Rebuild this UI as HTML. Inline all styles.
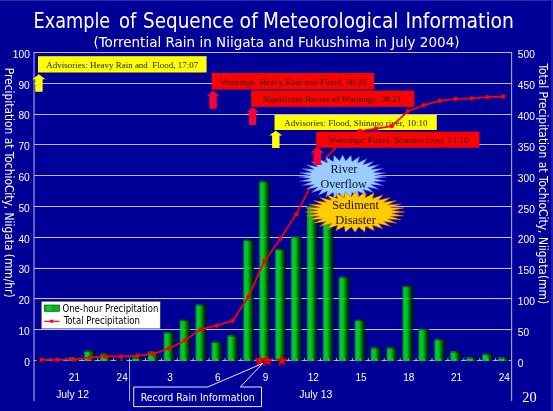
<!DOCTYPE html>
<html lang="en"><head><meta charset="utf-8"><title>Example of Sequence of Meteorological Information</title>
<style>html,body{margin:0;padding:0;background:#000099;overflow:hidden}svg{display:block}</style></head><body>
<svg width="553" height="411" viewBox="0 0 553 411">
<defs>
<linearGradient id="bar" x1="0" x2="1" y1="0" y2="0"><stop offset="0" stop-color="#008c1a"/><stop offset="0.1" stop-color="#00b420"/><stop offset="0.22" stop-color="#00d026"/><stop offset="0.42" stop-color="#00c020"/><stop offset="0.56" stop-color="#009416"/><stop offset="0.72" stop-color="#00580c"/><stop offset="0.86" stop-color="#002e06"/><stop offset="1" stop-color="#001202"/></linearGradient>
<linearGradient id="cap" x1="0" x2="1" y1="0" y2="0"><stop offset="0" stop-color="#005a10"/><stop offset="0.3" stop-color="#007414"/><stop offset="0.7" stop-color="#002c06"/><stop offset="1" stop-color="#000c00"/></linearGradient>
</defs>
<rect x="0" y="0" width="553" height="411" fill="#000099"/>
<rect x="0" y="0" width="553" height="1" fill="#2a2ab0"/>
<rect x="551" y="0" width="2" height="411" fill="#1e1eac"/>
<text y="27.7" font-family='"DejaVu Sans Condensed", "Liberation Sans", sans-serif' font-size="20.4" fill="#ffffff"><tspan x="33.6" textLength="76.6" lengthAdjust="spacingAndGlyphs">Example</tspan> <tspan x="119.0" textLength="17.4" lengthAdjust="spacingAndGlyphs">of</tspan> <tspan x="143.0" textLength="90.8" lengthAdjust="spacingAndGlyphs">Sequence</tspan> <tspan x="239.6" textLength="18.2" lengthAdjust="spacingAndGlyphs">of</tspan> <tspan x="263.1" textLength="135.2" lengthAdjust="spacingAndGlyphs">Meteorological</tspan> <tspan x="405.4" textLength="108.6" lengthAdjust="spacingAndGlyphs">Information</tspan></text>
<text x="93.5" y="46.6" font-family='"DejaVu Sans Condensed", "Liberation Sans", sans-serif' font-size="14.7" fill="#ffffff" textLength="366" lengthAdjust="spacingAndGlyphs">(Torrential Rain in Niigata and Fukushima in July 2004)</text>
<g stroke="#b9b9e6" stroke-width="1" fill="none">
<line x1="34.00" y1="329.50" x2="511.60" y2="329.50"/>
<line x1="34.00" y1="298.50" x2="511.60" y2="298.50"/>
<line x1="34.00" y1="268.50" x2="511.60" y2="268.50"/>
<line x1="34.00" y1="237.50" x2="511.60" y2="237.50"/>
<line x1="34.00" y1="206.50" x2="511.60" y2="206.50"/>
<line x1="34.00" y1="175.50" x2="511.60" y2="175.50"/>
<line x1="34.00" y1="144.50" x2="511.60" y2="144.50"/>
<line x1="34.00" y1="114.50" x2="511.60" y2="114.50"/>
<line x1="34.00" y1="83.50" x2="511.60" y2="83.50"/>
<line x1="34.00" y1="52.50" x2="511.60" y2="52.50"/>
</g>
<g stroke="#a9a9e0" stroke-width="1.1" fill="none">
<line x1="34.00" y1="52.10" x2="34.00" y2="401"/>
<line x1="511.60" y1="52.10" x2="511.60" y2="401"/>
<line x1="129.52" y1="360.50" x2="129.52" y2="401"/>
<line x1="34.00" y1="360.50" x2="511.60" y2="360.50"/>
</g>
<g font-family='"Liberation Sans", Arial, sans-serif' font-size="10.2" fill="#ffffff" text-anchor="end">
<text x="29.8" y="365.80">0</text>
<text x="29.8" y="335.01">10</text>
<text x="29.8" y="304.22">20</text>
<text x="29.8" y="273.43">30</text>
<text x="29.8" y="242.64">40</text>
<text x="29.8" y="211.85">50</text>
<text x="29.8" y="181.06">60</text>
<text x="29.8" y="150.27">70</text>
<text x="29.8" y="119.48">80</text>
<text x="29.8" y="88.69">90</text>
<text x="29.8" y="57.90">100</text>
</g>
<g font-family='"Liberation Sans", Arial, sans-serif' font-size="10.2" fill="#ffffff" text-anchor="start">
<text x="517.8" y="367.00">0</text>
<text x="517.8" y="336.12">50</text>
<text x="517.8" y="305.24">100</text>
<text x="517.8" y="274.36">150</text>
<text x="517.8" y="243.48">200</text>
<text x="517.8" y="212.60">250</text>
<text x="517.8" y="181.72">300</text>
<text x="517.8" y="150.84">350</text>
<text x="517.8" y="119.96">400</text>
<text x="517.8" y="89.08">450</text>
<text x="517.8" y="58.20">500</text>
</g>
<g font-family='"Liberation Sans", Arial, sans-serif' font-size="10" fill="#ffffff" text-anchor="middle">
<text x="74.40" y="380.7">21</text>
<text x="122.16" y="380.7">24</text>
<text x="169.92" y="380.7">3</text>
<text x="217.68" y="380.7">6</text>
<text x="265.44" y="380.7">9</text>
<text x="313.20" y="380.7">12</text>
<text x="360.96" y="380.7">15</text>
<text x="408.72" y="380.7">18</text>
<text x="456.48" y="380.7">21</text>
<text x="504.24" y="380.7">24</text>
<text x="72.6" y="397.5" font-size="10.4">July 12</text>
<text x="315.8" y="397.5" font-size="10.4">July 13</text>
</g>
<text transform="translate(4.6,67.8) rotate(90)" font-family='"DejaVu Sans Condensed", "Liberation Sans", sans-serif' font-size="13" fill="#ffffff" textLength="229.8" lengthAdjust="spacingAndGlyphs">Precipitation at TochioCity, Niigata (mm/hr)</text>
<text transform="translate(539.4,63.4) rotate(90)" font-family='"DejaVu Sans Condensed", "Liberation Sans", sans-serif' font-size="13" fill="#ffffff" textLength="240.7" lengthAdjust="spacingAndGlyphs">Total Precipitation at TochioCity, Niigata(mm)</text>
<rect x="38.00" y="56.20" width="168.60" height="16.30" fill="#ffff00"/>
<text x="46.30" y="68.00" font-family='"Liberation Serif", "Times New Roman", serif' font-size="9" fill="#1a1a00" textLength="152.00" lengthAdjust="spacingAndGlyphs" xml:space="preserve" style="white-space:pre">Advisories: Heavy Rain and  Flood, 17:07</text>
<polygon points="38.90,74.20 45.50,79.20 42.60,79.20 42.60,91.80 35.20,91.80 35.20,79.20 32.30,79.20" fill="#ffff00"/>
<rect x="211.70" y="73.00" width="162.60" height="16.50" fill="#ff0000"/>
<text x="220.00" y="85.00" font-family='"Liberation Serif", "Times New Roman", serif' font-size="9" fill="#1a1a00" textLength="146.30" lengthAdjust="spacingAndGlyphs" xml:space="preserve" style="white-space:pre">Warnings: Heavy Rain and Flood, 06:29</text>
<polygon points="213.10,90.70 219.50,95.80 216.80,95.80 216.80,108.80 209.40,108.80 209.40,95.80 206.70,95.80" fill="#ff0033"/>
<rect x="251.20" y="90.70" width="163.10" height="16.10" fill="#ff0000"/>
<text x="263.00" y="101.90" font-family='"Liberation Serif", "Times New Roman", serif' font-size="9" fill="#1a1a00" textLength="138.30" lengthAdjust="spacingAndGlyphs" xml:space="preserve" style="white-space:pre">Significant Revise of Warnings, 08:21</text>
<polygon points="252.60,107.00 258.90,112.50 256.20,112.50 256.20,125.00 249.00,125.00 249.00,112.50 246.30,112.50" fill="#ff0033"/>
<rect x="274.50" y="115.00" width="162.30" height="15.00" fill="#ffff00"/>
<text x="284.30" y="125.70" font-family='"Liberation Serif", "Times New Roman", serif' font-size="9" fill="#1a1a00" textLength="143.30" lengthAdjust="spacingAndGlyphs" xml:space="preserve" style="white-space:pre">Advisories: Flood, Shinano river, 10:10</text>
<polygon points="275.80,130.70 282.40,135.50 279.50,135.50 279.50,148.00 272.10,148.00 272.10,135.50 269.20,135.50" fill="#ffff00"/>
<polygon points="317.30,147.40 323.70,152.50 320.90,152.50 320.90,165.00 313.70,165.00 313.70,152.50 310.90,152.50" fill="#ff0033"/>
<g>
<rect x="36.36" y="359.90" width="10.70" height="1.2" fill="#00200a"/>
<rect x="52.28" y="359.90" width="10.70" height="1.2" fill="#00200a"/>
<rect x="68.20" y="357.42" width="10.70" height="3.48" fill="url(#bar)"/>
<rect x="68.20" y="357.42" width="10.70" height="1.4" fill="url(#cap)"/>
<rect x="84.12" y="350.65" width="10.70" height="10.25" fill="url(#bar)"/>
<rect x="84.12" y="350.65" width="10.70" height="1.4" fill="url(#cap)"/>
<rect x="100.04" y="353.73" width="10.70" height="7.17" fill="url(#bar)"/>
<rect x="100.04" y="353.73" width="10.70" height="1.4" fill="url(#cap)"/>
<rect x="115.96" y="359.90" width="10.70" height="1.2" fill="#00200a"/>
<rect x="131.88" y="357.42" width="10.70" height="3.48" fill="url(#bar)"/>
<rect x="131.88" y="357.42" width="10.70" height="1.4" fill="url(#cap)"/>
<rect x="147.80" y="351.57" width="10.70" height="9.33" fill="url(#bar)"/>
<rect x="147.80" y="351.57" width="10.70" height="1.4" fill="url(#cap)"/>
<rect x="163.72" y="332.17" width="10.70" height="28.73" fill="url(#bar)"/>
<rect x="163.72" y="332.17" width="10.70" height="1.4" fill="url(#cap)"/>
<rect x="179.64" y="319.86" width="10.70" height="41.04" fill="url(#bar)"/>
<rect x="179.64" y="319.86" width="10.70" height="1.4" fill="url(#cap)"/>
<rect x="195.56" y="304.46" width="10.70" height="56.44" fill="url(#bar)"/>
<rect x="195.56" y="304.46" width="10.70" height="1.4" fill="url(#cap)"/>
<rect x="211.48" y="341.72" width="10.70" height="19.18" fill="url(#bar)"/>
<rect x="211.48" y="341.72" width="10.70" height="1.4" fill="url(#cap)"/>
<rect x="227.40" y="335.25" width="10.70" height="25.65" fill="url(#bar)"/>
<rect x="227.40" y="335.25" width="10.70" height="1.4" fill="url(#cap)"/>
<rect x="243.32" y="239.80" width="10.70" height="121.10" fill="url(#bar)"/>
<rect x="243.32" y="239.80" width="10.70" height="1.4" fill="url(#cap)"/>
<rect x="259.24" y="181.30" width="10.70" height="179.60" fill="url(#bar)"/>
<rect x="259.24" y="181.30" width="10.70" height="1.4" fill="url(#cap)"/>
<rect x="275.16" y="249.04" width="10.70" height="111.86" fill="url(#bar)"/>
<rect x="275.16" y="249.04" width="10.70" height="1.4" fill="url(#cap)"/>
<rect x="291.08" y="236.72" width="10.70" height="124.18" fill="url(#bar)"/>
<rect x="291.08" y="236.72" width="10.70" height="1.4" fill="url(#cap)"/>
<rect x="307.00" y="205.93" width="10.70" height="154.97" fill="url(#bar)"/>
<rect x="307.00" y="205.93" width="10.70" height="1.4" fill="url(#cap)"/>
<rect x="322.92" y="221.33" width="10.70" height="139.57" fill="url(#bar)"/>
<rect x="322.92" y="221.33" width="10.70" height="1.4" fill="url(#cap)"/>
<rect x="338.84" y="276.75" width="10.70" height="84.15" fill="url(#bar)"/>
<rect x="338.84" y="276.75" width="10.70" height="1.4" fill="url(#cap)"/>
<rect x="354.76" y="319.86" width="10.70" height="41.04" fill="url(#bar)"/>
<rect x="354.76" y="319.86" width="10.70" height="1.4" fill="url(#cap)"/>
<rect x="370.68" y="347.57" width="10.70" height="13.33" fill="url(#bar)"/>
<rect x="370.68" y="347.57" width="10.70" height="1.4" fill="url(#cap)"/>
<rect x="386.60" y="347.57" width="10.70" height="13.33" fill="url(#bar)"/>
<rect x="386.60" y="347.57" width="10.70" height="1.4" fill="url(#cap)"/>
<rect x="402.52" y="285.99" width="10.70" height="74.91" fill="url(#bar)"/>
<rect x="402.52" y="285.99" width="10.70" height="1.4" fill="url(#cap)"/>
<rect x="418.44" y="329.09" width="10.70" height="31.81" fill="url(#bar)"/>
<rect x="418.44" y="329.09" width="10.70" height="1.4" fill="url(#cap)"/>
<rect x="434.36" y="339.25" width="10.70" height="21.65" fill="url(#bar)"/>
<rect x="434.36" y="339.25" width="10.70" height="1.4" fill="url(#cap)"/>
<rect x="450.28" y="351.26" width="10.70" height="9.64" fill="url(#bar)"/>
<rect x="450.28" y="351.26" width="10.70" height="1.4" fill="url(#cap)"/>
<rect x="466.20" y="357.42" width="10.70" height="3.48" fill="url(#bar)"/>
<rect x="466.20" y="357.42" width="10.70" height="1.4" fill="url(#cap)"/>
<rect x="482.12" y="353.73" width="10.70" height="7.17" fill="url(#bar)"/>
<rect x="482.12" y="353.73" width="10.70" height="1.4" fill="url(#cap)"/>
<rect x="498.04" y="357.42" width="10.70" height="3.48" fill="url(#bar)"/>
<rect x="498.04" y="357.42" width="10.70" height="1.4" fill="url(#cap)"/>
</g>
<g stroke="#d0d0f4" stroke-width="1" stroke-opacity="0.85">
<line x1="41.96" y1="361.00" x2="41.96" y2="358.50" stroke-opacity="0.5"/>
<line x1="49.92" y1="361.00" x2="49.92" y2="358.20"/>
<line x1="57.88" y1="361.00" x2="57.88" y2="358.50" stroke-opacity="0.5"/>
<line x1="65.84" y1="361.00" x2="65.84" y2="358.20"/>
<line x1="73.80" y1="361.00" x2="73.80" y2="358.50" stroke-opacity="0.5"/>
<line x1="81.76" y1="361.00" x2="81.76" y2="358.20"/>
<line x1="89.72" y1="361.00" x2="89.72" y2="358.50" stroke-opacity="0.5"/>
<line x1="97.68" y1="361.00" x2="97.68" y2="358.20"/>
<line x1="105.64" y1="361.00" x2="105.64" y2="358.50" stroke-opacity="0.5"/>
<line x1="113.60" y1="361.00" x2="113.60" y2="358.20"/>
<line x1="121.56" y1="361.00" x2="121.56" y2="358.50" stroke-opacity="0.5"/>
<line x1="129.52" y1="361.00" x2="129.52" y2="358.20"/>
<line x1="137.48" y1="361.00" x2="137.48" y2="358.50" stroke-opacity="0.5"/>
<line x1="145.44" y1="361.00" x2="145.44" y2="358.20"/>
<line x1="153.40" y1="361.00" x2="153.40" y2="358.50" stroke-opacity="0.5"/>
<line x1="161.36" y1="361.00" x2="161.36" y2="358.20"/>
<line x1="169.32" y1="361.00" x2="169.32" y2="358.50" stroke-opacity="0.5"/>
<line x1="177.28" y1="361.00" x2="177.28" y2="358.20"/>
<line x1="185.24" y1="361.00" x2="185.24" y2="358.50" stroke-opacity="0.5"/>
<line x1="193.20" y1="361.00" x2="193.20" y2="358.20"/>
<line x1="201.16" y1="361.00" x2="201.16" y2="358.50" stroke-opacity="0.5"/>
<line x1="209.12" y1="361.00" x2="209.12" y2="358.20"/>
<line x1="217.08" y1="361.00" x2="217.08" y2="358.50" stroke-opacity="0.5"/>
<line x1="225.04" y1="361.00" x2="225.04" y2="358.20"/>
<line x1="233.00" y1="361.00" x2="233.00" y2="358.50" stroke-opacity="0.5"/>
<line x1="240.96" y1="361.00" x2="240.96" y2="358.20"/>
<line x1="248.92" y1="361.00" x2="248.92" y2="358.50" stroke-opacity="0.5"/>
<line x1="256.88" y1="361.00" x2="256.88" y2="358.20"/>
<line x1="264.84" y1="361.00" x2="264.84" y2="358.50" stroke-opacity="0.5"/>
<line x1="272.80" y1="361.00" x2="272.80" y2="358.20"/>
<line x1="280.76" y1="361.00" x2="280.76" y2="358.50" stroke-opacity="0.5"/>
<line x1="288.72" y1="361.00" x2="288.72" y2="358.20"/>
<line x1="296.68" y1="361.00" x2="296.68" y2="358.50" stroke-opacity="0.5"/>
<line x1="304.64" y1="361.00" x2="304.64" y2="358.20"/>
<line x1="312.60" y1="361.00" x2="312.60" y2="358.50" stroke-opacity="0.5"/>
<line x1="320.56" y1="361.00" x2="320.56" y2="358.20"/>
<line x1="328.52" y1="361.00" x2="328.52" y2="358.50" stroke-opacity="0.5"/>
<line x1="336.48" y1="361.00" x2="336.48" y2="358.20"/>
<line x1="344.44" y1="361.00" x2="344.44" y2="358.50" stroke-opacity="0.5"/>
<line x1="352.40" y1="361.00" x2="352.40" y2="358.20"/>
<line x1="360.36" y1="361.00" x2="360.36" y2="358.50" stroke-opacity="0.5"/>
<line x1="368.32" y1="361.00" x2="368.32" y2="358.20"/>
<line x1="376.28" y1="361.00" x2="376.28" y2="358.50" stroke-opacity="0.5"/>
<line x1="384.24" y1="361.00" x2="384.24" y2="358.20"/>
<line x1="392.20" y1="361.00" x2="392.20" y2="358.50" stroke-opacity="0.5"/>
<line x1="400.16" y1="361.00" x2="400.16" y2="358.20"/>
<line x1="408.12" y1="361.00" x2="408.12" y2="358.50" stroke-opacity="0.5"/>
<line x1="416.08" y1="361.00" x2="416.08" y2="358.20"/>
<line x1="424.04" y1="361.00" x2="424.04" y2="358.50" stroke-opacity="0.5"/>
<line x1="432.00" y1="361.00" x2="432.00" y2="358.20"/>
<line x1="439.96" y1="361.00" x2="439.96" y2="358.50" stroke-opacity="0.5"/>
<line x1="447.92" y1="361.00" x2="447.92" y2="358.20"/>
<line x1="455.88" y1="361.00" x2="455.88" y2="358.50" stroke-opacity="0.5"/>
<line x1="463.84" y1="361.00" x2="463.84" y2="358.20"/>
<line x1="471.80" y1="361.00" x2="471.80" y2="358.50" stroke-opacity="0.5"/>
<line x1="479.76" y1="361.00" x2="479.76" y2="358.20"/>
<line x1="487.72" y1="361.00" x2="487.72" y2="358.50" stroke-opacity="0.5"/>
<line x1="495.68" y1="361.00" x2="495.68" y2="358.20"/>
<line x1="503.64" y1="361.00" x2="503.64" y2="358.50" stroke-opacity="0.5"/>
</g>
<g stroke="#ffffff" stroke-opacity="0.18" stroke-width="1" fill="none">
<line x1="34.00" y1="329.71" x2="511.60" y2="329.71"/>
<line x1="34.00" y1="298.92" x2="511.60" y2="298.92"/>
<line x1="34.00" y1="268.13" x2="511.60" y2="268.13"/>
<line x1="34.00" y1="237.34" x2="511.60" y2="237.34"/>
<line x1="34.00" y1="206.55" x2="511.60" y2="206.55"/>
</g>
<polyline points="41.56,359.80 57.48,359.80 73.40,359.49 89.32,357.64 105.24,356.41 121.16,356.41 137.08,355.80 153.00,353.95 168.92,348.41 184.84,340.40 200.76,329.32 216.68,325.62 232.60,320.70 248.52,296.68 264.44,260.96 280.36,238.80 296.28,214.16 312.20,183.37 328.12,155.66 344.04,139.04 359.96,131.03 375.88,128.57 391.80,126.10 407.72,111.32 423.64,105.17 439.56,100.86 455.48,99.01 471.40,98.39 487.32,97.16 503.24,96.55" fill="none" stroke="#ff0000" stroke-width="1.7" stroke-linejoin="round"/>
<g fill="#ff0000">
<circle cx="41.56" cy="359.80" r="2.2"/>
<circle cx="57.48" cy="359.80" r="2.2"/>
<circle cx="73.40" cy="359.49" r="2.2"/>
<circle cx="89.32" cy="357.64" r="2.2"/>
<circle cx="105.24" cy="356.41" r="2.2"/>
<circle cx="121.16" cy="356.41" r="2.2"/>
<circle cx="137.08" cy="355.80" r="2.2"/>
<circle cx="153.00" cy="353.95" r="2.2"/>
<circle cx="168.92" cy="348.41" r="2.2"/>
<circle cx="184.84" cy="340.40" r="2.2"/>
<circle cx="200.76" cy="329.32" r="2.2"/>
<circle cx="216.68" cy="325.62" r="2.2"/>
<circle cx="232.60" cy="320.70" r="2.2"/>
<circle cx="248.52" cy="296.68" r="2.2"/>
<circle cx="264.44" cy="260.96" r="2.2"/>
<circle cx="280.36" cy="238.80" r="2.2"/>
<circle cx="296.28" cy="214.16" r="2.2"/>
<circle cx="312.20" cy="183.37" r="2.2"/>
<circle cx="344.04" cy="139.04" r="2.2"/>
<circle cx="359.96" cy="131.03" r="2.2"/>
<circle cx="375.88" cy="128.57" r="2.2"/>
<circle cx="391.80" cy="126.10" r="2.2"/>
<circle cx="407.72" cy="111.32" r="2.2"/>
<circle cx="423.64" cy="105.17" r="2.2"/>
<circle cx="439.56" cy="100.86" r="2.2"/>
<circle cx="455.48" cy="99.01" r="2.2"/>
<circle cx="471.40" cy="98.39" r="2.2"/>
<circle cx="487.32" cy="97.16" r="2.2"/>
<circle cx="503.24" cy="96.55" r="2.2"/>
</g>
<rect x="316.20" y="131.80" width="163.30" height="15.90" fill="#ff0000"/>
<text x="328.00" y="142.80" font-family='"Liberation Serif", "Times New Roman", serif' font-size="9" fill="#1a1a00" textLength="140.50" lengthAdjust="spacingAndGlyphs" xml:space="preserve" style="white-space:pre">Warnings: Flood, Shinano river, 12:10</text>
<polygon points="342.60,154.70 345.78,160.80 351.26,155.13 352.01,161.42 359.59,156.40 357.88,162.64 367.27,158.46 363.16,164.42 374.00,161.23 367.65,166.67 379.52,164.61 371.18,169.33 383.62,168.47 373.62,172.27 386.15,172.65 374.86,175.40 387.00,177.00 374.86,178.60 386.15,181.35 373.62,181.73 383.62,185.53 371.18,184.67 379.52,189.39 367.65,187.33 374.00,192.77 363.16,189.58 367.27,195.54 357.88,191.36 359.59,197.60 352.01,192.58 351.26,198.87 345.78,193.20 342.60,199.30 339.42,193.20 333.94,198.87 333.19,192.58 325.61,197.60 327.32,191.36 317.93,195.54 322.04,189.58 311.20,192.77 317.55,187.33 305.68,189.39 314.02,184.67 301.58,185.53 311.58,181.73 299.05,181.35 310.34,178.60 298.20,177.00 310.34,175.40 299.05,172.65 311.58,172.27 301.58,168.47 314.02,169.33 305.68,164.61 317.55,166.67 311.20,161.23 322.04,164.42 317.93,158.46 327.32,162.64 325.61,156.40 333.19,161.42 333.94,155.13 339.42,160.80" fill="#99ccff" stroke="#2a2aff" stroke-width="0.5" stroke-linejoin="miter"/>
<polygon points="317.30,147.40 323.70,152.50 320.90,152.50 320.90,165.00 313.70,165.00 313.70,152.50 310.90,152.50" fill="#ff0033"/>
<g font-family='"Liberation Serif", "Times New Roman", serif' font-size="12.1" fill="#101020" text-anchor="middle">
<text x="343.9" y="173">River</text><text x="343.6" y="187.6">Overflow</text>
</g>
<polygon points="355.00,191.50 358.63,196.88 364.75,191.89 365.74,197.45 374.13,193.05 372.44,198.59 382.78,194.94 378.47,200.23 390.36,197.48 383.60,202.32 396.57,200.57 387.63,204.78 401.19,204.09 390.41,207.52 404.04,207.92 391.82,210.42 405.00,211.90 391.82,213.38 404.04,215.88 390.41,216.28 401.19,219.71 387.63,219.02 396.57,223.23 383.60,221.48 390.36,226.32 378.47,223.57 382.78,228.86 372.44,225.21 374.13,230.75 365.74,226.35 364.75,231.91 358.63,226.92 355.00,232.30 351.37,226.92 345.25,231.91 344.26,226.35 335.87,230.75 337.56,225.21 327.22,228.86 331.53,223.57 319.64,226.32 326.40,221.48 313.43,223.23 322.37,219.02 308.81,219.71 319.59,216.28 305.96,215.88 318.18,213.38 305.00,211.90 318.18,210.42 305.96,207.92 319.59,207.52 308.81,204.09 322.37,204.78 313.43,200.57 326.40,202.32 319.64,197.48 331.53,200.23 327.22,194.94 337.56,198.59 335.87,193.05 344.26,197.45 345.25,191.89 351.37,196.88" fill="#ffcc00" stroke="#c8501e" stroke-width="0.5" stroke-linejoin="miter"/>
<g font-family='"Liberation Serif", "Times New Roman", serif' font-size="12.4" fill="#1a1000" text-anchor="middle">
<text x="355.6" y="208.8">Sediment</text><text x="355.6" y="224.1">Disaster</text>
</g>
<polygon points="260.00,354.50 261.41,358.85 265.99,358.85 262.29,361.54 263.70,365.90 260.00,363.21 256.30,365.90 257.71,361.54 254.01,358.85 258.59,358.85" fill="#ff0000" stroke="#990000" stroke-width="0.4"/>
<polygon points="267.30,354.50 268.71,358.85 273.29,358.85 269.59,361.54 271.00,365.90 267.30,363.21 263.60,365.90 265.01,361.54 261.31,358.85 265.89,358.85" fill="#ff0000" stroke="#990000" stroke-width="0.4"/>
<polygon points="281.80,354.50 283.21,358.85 287.79,358.85 284.09,361.54 285.50,365.90 281.80,363.21 278.10,365.90 279.51,361.54 275.81,358.85 280.39,358.85" fill="#ff0000" stroke="#990000" stroke-width="0.4"/>
<polyline points="207.7,387 133.7,387 133.7,406.6 261.5,406.6 261.5,387 240.3,387 262.6,363.5 207.7,387" fill="none" stroke="#e6e6ff" stroke-width="1"/>
<text x="140.7" y="400.9" font-family='"DejaVu Sans Condensed", "Liberation Sans", sans-serif' font-size="10.6" fill="#ffffff" textLength="114" lengthAdjust="spacingAndGlyphs">Record Rain Information</text>
<rect x="41.3" y="301.3" width="118.9" height="27.5" fill="#ffffff" stroke="#404060" stroke-width="0.5"/>
<rect x="44.3" y="305" width="15.2" height="6.3" fill="#00b81e" stroke="#003a08" stroke-width="0.6"/>
<rect x="47" y="305.8" width="4" height="4.6" fill="#00d428"/>
<text x="62.5" y="312.4" font-family='"DejaVu Sans Condensed", "Liberation Sans", sans-serif' font-size="9.6" fill="#000000" textLength="95.8" lengthAdjust="spacingAndGlyphs">One-hour Precipitation</text>
<line x1="44.3" y1="321.3" x2="59.5" y2="321.3" stroke="#ff0000" stroke-width="1.2"/><circle cx="51.8" cy="321.3" r="1.8" fill="#ff0000"/>
<text x="63.7" y="324.2" font-family='"DejaVu Sans Condensed", "Liberation Sans", sans-serif' font-size="9.6" fill="#000000" textLength="76.3" lengthAdjust="spacingAndGlyphs">Total Precipitation</text>
<text x="522.3" y="401.6" font-family='"Liberation Serif", "Times New Roman", serif' font-size="14.3" fill="#ffffff">20</text>
</svg></body></html>
